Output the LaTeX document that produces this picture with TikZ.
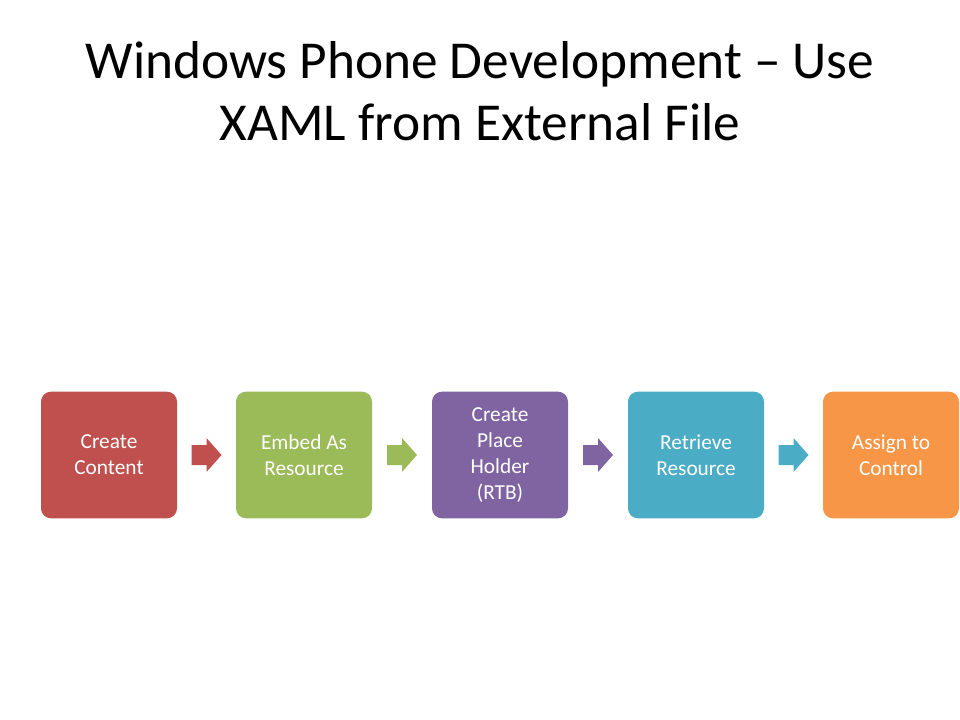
\documentclass[tikz,border=0pt]{standalone}
\usepackage{fontspec}
\setmainfont{Carlito}
\definecolor{cR}{HTML}{C0504D}
\definecolor{cG}{HTML}{9BBB59}
\definecolor{cP}{HTML}{8064A2}
\definecolor{cT}{HTML}{4BACC6}
\definecolor{cO}{HTML}{F79646}
\begin{document}
\begin{tikzpicture}[x=0.75pt,y=-0.75pt,
  stepbox/.style={fill=#1,draw=none,rounded corners=7.5pt,minimum width=102pt,minimum height=95pt,
    text=white,align=center,font=\fontsize{16}{19.5}\selectfont,inner sep=0pt},
  blockarrow/.style={fill=#1,draw=none}]
\useasboundingbox (0,0) rectangle (960,720);
\node[font=\fontsize{40}{46.5}\selectfont,align=center] (title) at (480,91) {Windows Phone Development -- Use\\XAML from External File};
\node[stepbox=cR] (b1) at (109,455) {Create\\Content};
\node[stepbox=cG] (b2) at (304,455) {Embed As\\Resource};
\node[stepbox=cP] (b3) at (500,455) {Create\\Place\\Holder\\(RTB)};
\node[stepbox=cT] (b4) at (696,455) {Retrieve\\Resource};
\node[stepbox=cO] (b5) at (891,455) {Assign to\\Control};
\foreach \a/\b/\c in {b1/b2/cR,b2/b3/cG,b3/b4/cP,b4/b5/cT}{
  \path (\a.east) -- (\b.west) coordinate[pos=0.5] (m\a);
  \fill[\c] ([shift={(-15,-10)}]m\a) -- ([shift={(0,-10)}]m\a) -- ([shift={(0,-17)}]m\a) -- ([shift={(15,0)}]m\a)
     -- ([shift={(0,17)}]m\a) -- ([shift={(0,10)}]m\a) -- ([shift={(-15,10)}]m\a) -- cycle;
}
\end{tikzpicture}
\end{document}
